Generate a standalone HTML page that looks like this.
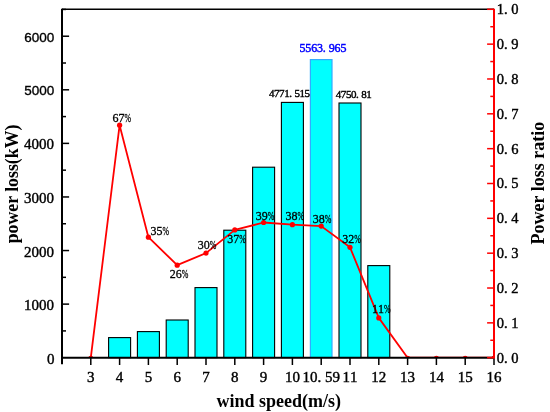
<!DOCTYPE html>
<html lang="en"><head><meta charset="utf-8"><title>Power loss vs wind speed</title>
<style>html,body{margin:0;padding:0;background:#fff}body{width:550px;height:412px;overflow:hidden}svg{display:block}text{font-family:'Liberation Serif', 'Noto Serif CJK SC', serif}</style>
</head><body>
<svg width="550" height="412" viewBox="0 0 550 412">
<rect width="550" height="412" fill="#fff"/>
<g fill="#00ffff" stroke="#000" stroke-width="1.1">
<rect x="108.60" y="337.60" width="22" height="20.10"/>
<rect x="137.40" y="331.60" width="22" height="26.10"/>
<rect x="166.20" y="320.00" width="22" height="37.70"/>
<rect x="195.00" y="287.60" width="22" height="70.10"/>
<rect x="223.80" y="230.20" width="22" height="127.50"/>
<rect x="252.60" y="167.20" width="22" height="190.50"/>
<rect x="281.40" y="102.40" width="22" height="255.30"/>
<rect x="339.00" y="103.00" width="22" height="254.70"/>
<rect x="367.80" y="265.60" width="22" height="92.10"/>
</g>
<rect x="310.40" y="59.60" width="21.6" height="298.10" fill="#00ffff" stroke="#33aaff" stroke-width="1.2"/>
<clipPath id="plotclip"><rect x="62.00" y="9.30" width="432.00" height="348.80"/></clipPath>
<g clip-path="url(#plotclip)">
<polyline fill="none" stroke="#ff0000" stroke-width="1.8" stroke-linejoin="round" points="90.80,357.70 119.60,125.20 148.40,237.20 177.20,265.20 206.00,253.10 234.80,229.90 263.60,222.50 292.40,224.70 321.20,226.10 350.00,247.30 378.80,317.90 407.60,357.70 436.40,357.70 465.20,357.70 494.00,357.70"/>
<g fill="#ff0000">
<circle cx="90.80" cy="358.40" r="2.6"/>
<circle cx="119.60" cy="125.20" r="2.6"/>
<circle cx="148.40" cy="237.20" r="2.6"/>
<circle cx="177.20" cy="265.20" r="2.6"/>
<circle cx="206.00" cy="253.10" r="2.6"/>
<circle cx="234.80" cy="229.90" r="2.6"/>
<circle cx="263.60" cy="222.50" r="2.6"/>
<circle cx="292.40" cy="224.70" r="2.6"/>
<circle cx="321.20" cy="226.10" r="2.6"/>
<circle cx="350.00" cy="247.30" r="2.6"/>
<circle cx="378.80" cy="317.90" r="2.6"/>
<circle cx="407.60" cy="358.40" r="2.6"/>
<circle cx="436.40" cy="358.40" r="2.6"/>
<circle cx="465.20" cy="358.40" r="2.6"/>
<circle cx="494.00" cy="358.40" r="2.6"/>
</g>
</g>
<rect x="60" y="358.60" width="436" height="4" fill="#fff"/>
<line x1="62.00" y1="9.30" x2="494.00" y2="9.30" stroke="#000" stroke-width="1.4"/>
<g stroke="#000" stroke-width="2" stroke-linecap="butt">
<line x1="61.10" y1="357.70" x2="494.00" y2="357.70"/>
<line x1="62.00" y1="8.70" x2="62.00" y2="364.20"/>
</g>
<g stroke="#000" stroke-width="1.5">
<line x1="90.80" y1="357.70" x2="90.80" y2="365.00"/>
<line x1="119.60" y1="357.70" x2="119.60" y2="365.00"/>
<line x1="148.40" y1="357.70" x2="148.40" y2="365.00"/>
<line x1="177.20" y1="357.70" x2="177.20" y2="365.00"/>
<line x1="206.00" y1="357.70" x2="206.00" y2="365.00"/>
<line x1="234.80" y1="357.70" x2="234.80" y2="365.00"/>
<line x1="263.60" y1="357.70" x2="263.60" y2="365.00"/>
<line x1="292.40" y1="357.70" x2="292.40" y2="365.00"/>
<line x1="321.20" y1="357.70" x2="321.20" y2="365.00"/>
<line x1="350.00" y1="357.70" x2="350.00" y2="365.00"/>
<line x1="378.80" y1="357.70" x2="378.80" y2="365.00"/>
<line x1="407.60" y1="357.70" x2="407.60" y2="365.00"/>
<line x1="436.40" y1="357.70" x2="436.40" y2="365.00"/>
<line x1="465.20" y1="357.70" x2="465.20" y2="365.00"/>
<line x1="494.00" y1="357.70" x2="494.00" y2="365.00"/>
<line x1="62.00" y1="330.91" x2="66.00" y2="330.91"/>
<line x1="62.00" y1="304.12" x2="69.10" y2="304.12"/>
<line x1="62.00" y1="277.33" x2="66.00" y2="277.33"/>
<line x1="62.00" y1="250.54" x2="69.10" y2="250.54"/>
<line x1="62.00" y1="223.75" x2="66.00" y2="223.75"/>
<line x1="62.00" y1="196.96" x2="69.10" y2="196.96"/>
<line x1="62.00" y1="170.17" x2="66.00" y2="170.17"/>
<line x1="62.00" y1="143.38" x2="69.10" y2="143.38"/>
<line x1="62.00" y1="116.59" x2="66.00" y2="116.59"/>
<line x1="62.00" y1="89.80" x2="69.10" y2="89.80"/>
<line x1="62.00" y1="63.01" x2="66.00" y2="63.01"/>
<line x1="62.00" y1="36.22" x2="69.10" y2="36.22"/>
<line x1="62.00" y1="9.43" x2="66.00" y2="9.43"/>
</g>
<g stroke="#ff0000" stroke-width="2">
<line x1="494.00" y1="8.70" x2="494.00" y2="358.60"/>
</g>
<g stroke="#ff0000" stroke-width="1.5">
<line x1="487.10" y1="357.70" x2="494.00" y2="357.70"/>
<line x1="490.30" y1="340.28" x2="494.00" y2="340.28"/>
<line x1="487.10" y1="322.86" x2="494.00" y2="322.86"/>
<line x1="490.30" y1="305.44" x2="494.00" y2="305.44"/>
<line x1="487.10" y1="288.02" x2="494.00" y2="288.02"/>
<line x1="490.30" y1="270.60" x2="494.00" y2="270.60"/>
<line x1="487.10" y1="253.18" x2="494.00" y2="253.18"/>
<line x1="490.30" y1="235.76" x2="494.00" y2="235.76"/>
<line x1="487.10" y1="218.34" x2="494.00" y2="218.34"/>
<line x1="490.30" y1="200.92" x2="494.00" y2="200.92"/>
<line x1="487.10" y1="183.50" x2="494.00" y2="183.50"/>
<line x1="490.30" y1="166.08" x2="494.00" y2="166.08"/>
<line x1="487.10" y1="148.66" x2="494.00" y2="148.66"/>
<line x1="490.30" y1="131.24" x2="494.00" y2="131.24"/>
<line x1="487.10" y1="113.82" x2="494.00" y2="113.82"/>
<line x1="490.30" y1="96.40" x2="494.00" y2="96.40"/>
<line x1="487.10" y1="78.98" x2="494.00" y2="78.98"/>
<line x1="490.30" y1="61.56" x2="494.00" y2="61.56"/>
<line x1="487.10" y1="44.14" x2="494.00" y2="44.14"/>
<line x1="490.30" y1="26.72" x2="494.00" y2="26.72"/>
<line x1="487.10" y1="9.30" x2="494.00" y2="9.30"/>
</g>
<text x="54.4" y="364.20" font-size="15" text-anchor="end" stroke="#000" stroke-width="0.4">0</text>
<text x="54" y="310.22" font-size="15" text-anchor="end" stroke="#000" stroke-width="0.4">1000</text>
<text x="54" y="256.64" font-size="15" text-anchor="end" stroke="#000" stroke-width="0.4">2000</text>
<text x="54" y="203.06" font-size="15" text-anchor="end" stroke="#000" stroke-width="0.4">3000</text>
<text x="54" y="149.48" font-size="15" text-anchor="end" stroke="#000" stroke-width="0.4">4000</text>
<text x="54.2" y="95.30" font-size="13.5" text-anchor="end" stroke="#000" stroke-width="0.35" style="font-family:'Liberation Sans', 'Noto Sans CJK SC', sans-serif">5000</text>
<text x="54.2" y="41.72" font-size="13.5" text-anchor="end" stroke="#000" stroke-width="0.35" style="font-family:'Liberation Sans', 'Noto Sans CJK SC', sans-serif">6000</text>
<text x="496.70 503.95 511.20" y="362.60" font-size="14.5" fill="#000" stroke="#000" stroke-width="0.4" >0.0</text>
<text x="496.70 503.95 511.20" y="327.76" font-size="14.5" fill="#000" stroke="#000" stroke-width="0.4" >0.1</text>
<text x="496.70 503.95 511.20" y="292.92" font-size="14.5" fill="#000" stroke="#000" stroke-width="0.4" >0.2</text>
<text x="496.70 503.95 511.20" y="258.08" font-size="14.5" fill="#000" stroke="#000" stroke-width="0.4" >0.3</text>
<text x="496.70 503.95 511.20" y="223.24" font-size="14.5" fill="#000" stroke="#000" stroke-width="0.4" >0.4</text>
<text x="496.70 503.95 511.20" y="188.40" font-size="14.5" fill="#000" stroke="#000" stroke-width="0.4" >0.5</text>
<text x="496.70 503.95 511.20" y="153.56" font-size="14.5" fill="#000" stroke="#000" stroke-width="0.4" >0.6</text>
<text x="496.70 503.95 511.20" y="118.72" font-size="14.5" fill="#000" stroke="#000" stroke-width="0.4" >0.7</text>
<text x="496.70 503.95 511.20" y="83.88" font-size="14.5" fill="#000" stroke="#000" stroke-width="0.4" >0.8</text>
<text x="496.70 503.95 511.20" y="49.04" font-size="14.5" fill="#000" stroke="#000" stroke-width="0.4" >0.9</text>
<text x="496.70 503.95 511.20" y="14.20" font-size="14.5" fill="#000" stroke="#000" stroke-width="0.4" >1.0</text>
<text x="87.05" y="381.50" font-size="15" fill="#000" stroke="#000" stroke-width="0.4" >3</text>
<text x="115.85" y="381.50" font-size="15" fill="#000" stroke="#000" stroke-width="0.4" >4</text>
<text x="144.65" y="381.50" font-size="15" fill="#000" stroke="#000" stroke-width="0.4" >5</text>
<text x="173.45" y="381.50" font-size="15" fill="#000" stroke="#000" stroke-width="0.4" >6</text>
<text x="202.25" y="381.50" font-size="15" fill="#000" stroke="#000" stroke-width="0.4" >7</text>
<text x="231.05" y="381.50" font-size="15" fill="#000" stroke="#000" stroke-width="0.4" >8</text>
<text x="259.85" y="381.50" font-size="15" fill="#000" stroke="#000" stroke-width="0.4" >9</text>
<text x="284.90 292.40" y="381.50" font-size="15" fill="#000" stroke="#000" stroke-width="0.4" >10</text>
<text x="302.45 309.95 317.45 324.95 332.45" y="381.50" font-size="15" fill="#000" stroke="#000" stroke-width="0.4" >10.59</text>
<text x="342.50 350.00" y="381.50" font-size="15" fill="#000" stroke="#000" stroke-width="0.4" >11</text>
<text x="371.30 378.80" y="381.50" font-size="15" fill="#000" stroke="#000" stroke-width="0.4" >12</text>
<text x="400.10 407.60" y="381.50" font-size="15" fill="#000" stroke="#000" stroke-width="0.4" >13</text>
<text x="428.90 436.40" y="381.50" font-size="15" fill="#000" stroke="#000" stroke-width="0.4" >14</text>
<text x="457.70 465.20" y="381.50" font-size="15" fill="#000" stroke="#000" stroke-width="0.4" >15</text>
<text x="486.50 494.00" y="381.50" font-size="15" fill="#000" stroke="#000" stroke-width="0.4" >16</text>
<text x="112.60 118.60" y="122.30" font-size="12" fill="#000" stroke="#000" stroke-width="0.3" >67</text>
<text transform="translate(124.60,122.30) scale(0.66,1)" font-size="12" fill="#000" stroke="#000" stroke-width="0.3">%</text>
<text x="150.50 156.50" y="235.10" font-size="12" fill="#000" stroke="#000" stroke-width="0.3" >35</text>
<text transform="translate(162.50,235.10) scale(0.66,1)" font-size="12" fill="#000" stroke="#000" stroke-width="0.3">%</text>
<text x="169.80 175.80" y="277.50" font-size="12" fill="#000" stroke="#000" stroke-width="0.3" >26</text>
<text transform="translate(181.80,277.50) scale(0.66,1)" font-size="12" fill="#000" stroke="#000" stroke-width="0.3">%</text>
<text x="197.80 203.80" y="249.30" font-size="12" fill="#000" stroke="#000" stroke-width="0.3" >30</text>
<text transform="translate(209.80,249.30) scale(0.66,1)" font-size="12" fill="#000" stroke="#000" stroke-width="0.3">%</text>
<text x="227.30 233.30" y="242.70" font-size="12" fill="#000" stroke="#000" stroke-width="0.3" >37</text>
<text transform="translate(239.30,242.70) scale(0.66,1)" font-size="12" fill="#000" stroke="#000" stroke-width="0.3">%</text>
<text x="255.70 261.70" y="220.00" font-size="12" fill="#000" stroke="#000" stroke-width="0.3" >39</text>
<text transform="translate(267.70,220.00) scale(0.66,1)" font-size="12" fill="#000" stroke="#000" stroke-width="0.3">%</text>
<text x="285.40 291.40" y="219.80" font-size="12" fill="#000" stroke="#000" stroke-width="0.3" >38</text>
<text transform="translate(297.40,219.80) scale(0.66,1)" font-size="12" fill="#000" stroke="#000" stroke-width="0.3">%</text>
<text x="312.80 318.80" y="222.90" font-size="12" fill="#000" stroke="#000" stroke-width="0.3" >38</text>
<text transform="translate(324.80,222.90) scale(0.66,1)" font-size="12" fill="#000" stroke="#000" stroke-width="0.3">%</text>
<text x="342.30 348.30" y="243.10" font-size="12" fill="#000" stroke="#000" stroke-width="0.3" >32</text>
<text transform="translate(354.30,243.10) scale(0.66,1)" font-size="12" fill="#000" stroke="#000" stroke-width="0.3">%</text>
<text x="372.00 378.00" y="312.80" font-size="12" fill="#000" stroke="#000" stroke-width="0.3" >11</text>
<text transform="translate(384.00,312.80) scale(0.66,1)" font-size="12" fill="#000" stroke="#000" stroke-width="0.3">%</text>
<text x="268.90 274.00 279.10 284.20 289.30 294.40 299.50 304.60" y="97.40" font-size="11" fill="#000" stroke="#000" stroke-width="0.4" >4771.515</text>
<text x="299.50 305.34 311.18 317.02 322.86 328.70 334.54 340.38" y="51.60" font-size="12" fill="#0000ff" stroke="#0000ff" stroke-width="0.45" >5563.965</text>
<text x="335.70 340.80 345.90 351.00 356.10 361.20 366.30" y="98.30" font-size="11" fill="#000" stroke="#000" stroke-width="0.4" >4750.81</text>
<text x="278.8" y="406.8" font-size="18" font-weight="bold" text-anchor="middle">wind speed(m/s)</text>
<text transform="translate(17.6,184.0) rotate(-90)" font-size="17.8" font-weight="bold" text-anchor="middle">power loss(kW)</text>
<text transform="translate(544,183.1) rotate(-90)" font-size="18.05" font-weight="bold" text-anchor="middle">Power loss ratio</text>
</svg></body></html>
